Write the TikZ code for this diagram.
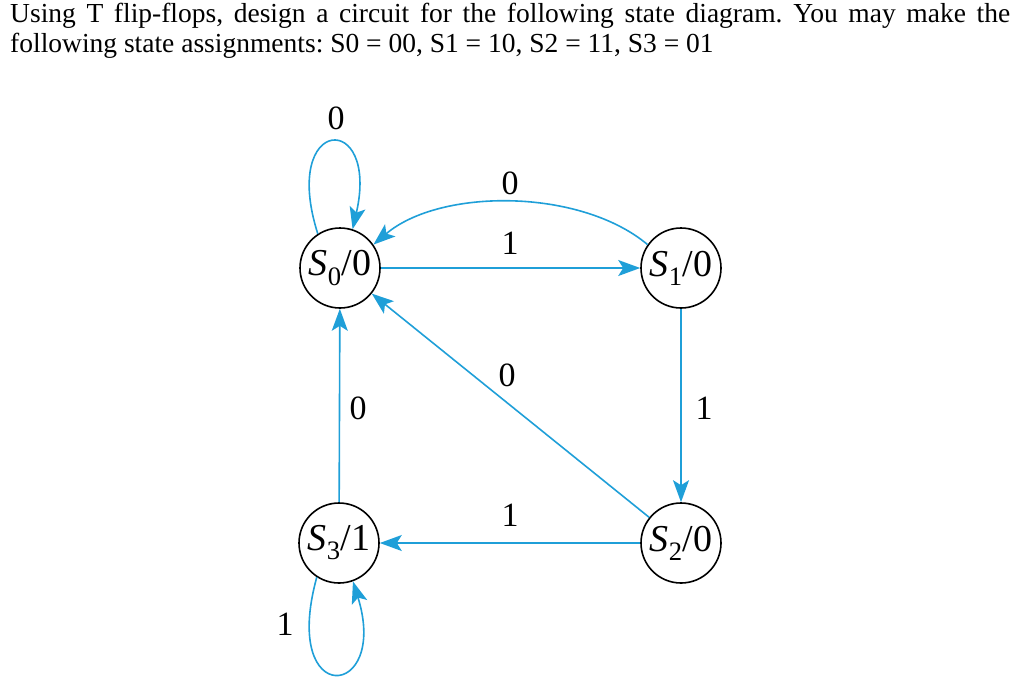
\documentclass[tikz,border=0pt]{standalone}
\usepackage{fontspec}
\setmainfont{Liberation Serif}
\usetikzlibrary{arrows.meta}
\definecolor{ac}{HTML}{1F9FD8}
\frenchspacing
\begin{document}
\begin{tikzpicture}[x=1pt,y=-1pt,
  st/.style={circle,draw,line width=1.6pt,minimum size=80pt,inner sep=0pt,font=\fontsize{38}{40}\selectfont},
  tr/.style={draw=ac,line width=1.6pt,-{Stealth[length=22pt,width=16pt,inset=5pt]}},
  lb/.style={font=\fontsize{34}{36}\selectfont,inner sep=0pt}]
\useasboundingbox (0,0) rectangle (1024,683);
\node[anchor=west,inner sep=0pt,font=\fontsize{27.5}{30}\selectfont] (t1) at (10,16) {\makebox[1000pt][s]{Using T flip-flops, design a circuit for the following state diagram. You may make the}};
\node[anchor=west,inner sep=0pt,font=\fontsize{27.5}{30}\selectfont] (t2) at (10,46) {following state assignments: S0 = 00, S1 = 10, S2 = 11, S3 = 01};
\node[st] (s0) at (340,268) {\textit{S}\textsubscript{0}/0};
\node[st] (s1) at (681,268) {\textit{S}\textsubscript{1}/0};
\node[st] (s2) at (681,543) {\textit{S}\textsubscript{2}/0};
\node[st] (s3) at (339,543) {\textit{S}\textsubscript{3}/1};
\draw[tr] (s0.123) .. controls (280,115) and (380,110) .. (s0.72);
\node[lb] (l1) at (336,118) {0};
\draw[tr] (s1.145) .. controls (580,188) and (440,188) .. (s0.35);
\node[lb] (l2) at (510,183) {0};
\draw[tr] (s0) -- (s1);
\node[lb] (l3) at (510,243) {1};
\draw[tr] (s1) -- (s2);
\node[lb] (l4) at (704,408) {1};
\draw[tr] (s2) -- (s0);
\node[lb] (l5) at (507,375) {0};
\draw[tr] (s3) -- (s0);
\node[lb] (l6) at (358,408) {0};
\draw[tr] (s2) -- (s3);
\node[lb] (l7) at (510,515) {1};
\draw[tr] (s3.237) .. controls (280,710) and (390,700) .. (s3.290);
\node[lb] (l8) at (285,624) {1};
\end{tikzpicture}
\end{document}
